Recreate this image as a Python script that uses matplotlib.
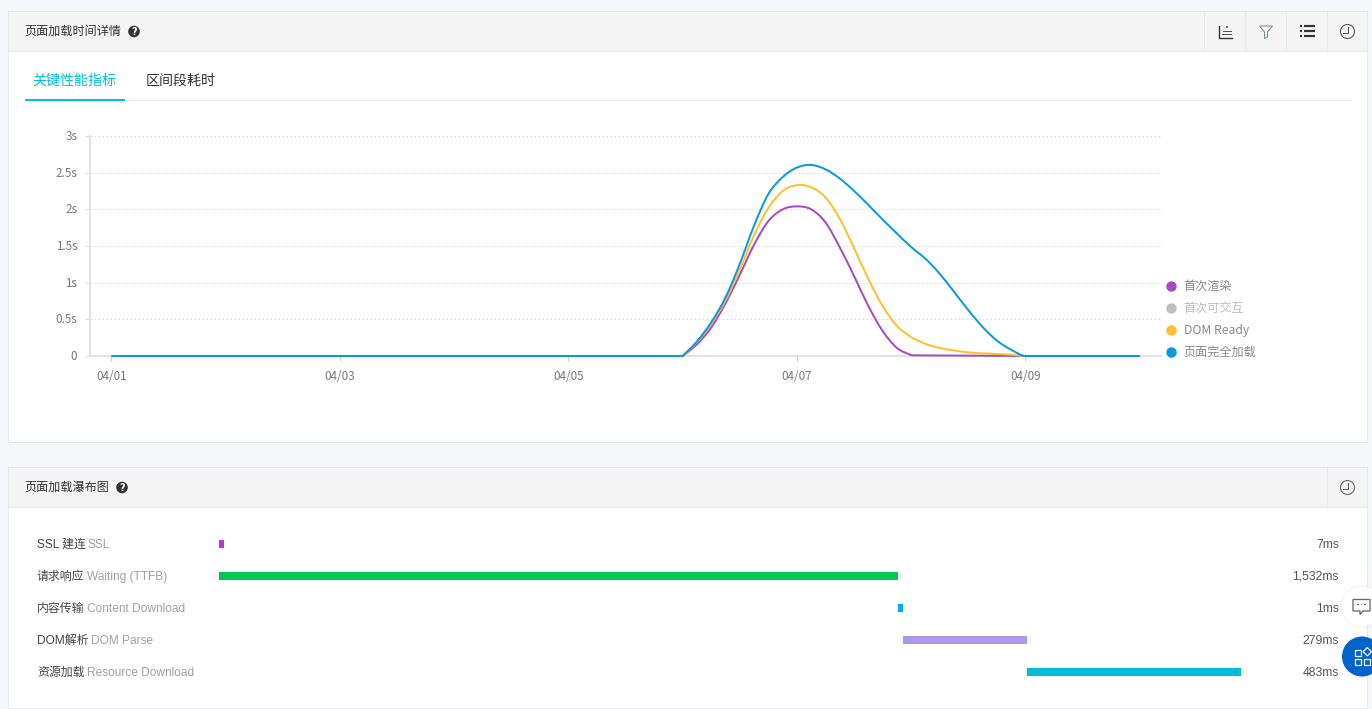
import matplotlib
matplotlib.use("Agg")
import matplotlib.pyplot as plt
from matplotlib.lines import Line2D
from matplotlib.path import Path
from matplotlib.patches import Rectangle, Circle, Polygon, PathPatch
from matplotlib.transforms import ScaledTranslation

# ====== DATA ======
days = [1, 2, 3, 4, 5, 6, 6.125, 6.25, 6.375, 6.5, 6.625, 6.75, 6.875, 7, 7.125, 7.25, 7.375, 7.5, 7.625,
        7.75, 7.875, 8, 8.125, 8.25, 8.375, 8.5, 8.625, 8.75, 8.875, 9, 10]
first_paint = [0, 0, 0, 0, 0, 0, 0.16, 0.39, 0.72, 1.11, 1.52, 1.84, 2.0, 2.04, 2.0, 1.82, 1.48, 1.09, 0.68,
               0.34, 0.11, 0.01, 0.008, 0.007, 0.006, 0.005, 0.004, 0.003, 0.002, 0, 0]
dom_ready = [0, 0, 0, 0, 0, 0, 0.19, 0.44, 0.76, 1.18, 1.65, 2.02, 2.25, 2.33, 2.3, 2.16, 1.87, 1.47, 1.05,
             0.68, 0.41, 0.255, 0.165, 0.11, 0.075, 0.05, 0.036, 0.027, 0.018, 0, 0]
page_load = [0, 0, 0, 0, 0, 0, 0.2, 0.46, 0.8, 1.26, 1.78, 2.21, 2.44, 2.57, 2.605, 2.545, 2.42, 2.25, 2.06,
             1.86, 1.67, 1.485, 1.325, 1.12, 0.875, 0.625, 0.395, 0.21, 0.085, 0, 0]
y_ticks = [0, 0.5, 1, 1.5, 2, 2.5, 3]
y_labels = ["0", "0.5s", "1s", "1.5s", "2s", "2.5s", "3s"]
x_ticks = [1, 3, 5, 7, 9]
x_labels = ["04/01", "04/03", "04/05", "04/07", "04/09"]
legend_labels = ["首次渲染", "首次可交互", "DOM Ready", "页面完全加载"]

stage_cn = ["SSL 建连", "请求响应", "内容传输", "DOM解析", "资源加载"]
stage_en = ["SSL", "Waiting (TTFB)", "Content Download", "DOM Parse", "Resource Download"]
stage_ms = ["7ms", "1,532ms", "1ms", "279ms", "483ms"]
bar_start = [0, 0, 1532, 1543, 1822]
bar_width = [11, 1532, 11, 279, 483]  # short ones are drawn wider than their value

# ====== STYLE ======
CJK = ["Noto Sans CJK SC", "DejaVu Sans"]
LATIN = ["Liberation Sans", "Noto Sans CJK SC", "DejaVu Sans"]
plt.rcParams["font.family"] = CJK
PT = 0.72  # 1 px in points at dpi 100
BORDER = "#e6e9ee"
W, H = 1372, 709

fig = plt.figure(figsize=(W / 100, H / 100), dpi=100, facecolor="#f5f7fa")


def px_axes(left, top, right, bottom):
    return fig.add_axes([left / W, 1 - bottom / H, (right - left) / W, (bottom - top) / H])


def smooth_line(axis, xs, ys, color, zorder, kinks=()):
    # the original is a smoothed line, so run bezier segments through the read points
    slopes = []
    for i in range(len(xs)):
        if i == 0 or i == len(xs) - 1 or xs[i] in kinks:
            slopes.append(None)
        else:
            slopes.append((ys[i + 1] - ys[i - 1]) / (xs[i + 1] - xs[i - 1]))
    verts = [(xs[0], ys[0])]
    codes = [Path.MOVETO]
    for i in range(len(xs) - 1):
        h = xs[i + 1] - xs[i]
        chord = (ys[i + 1] - ys[i]) / h
        m0 = chord if slopes[i] is None or h > 0.5 or xs[i] == 6 else slopes[i]
        m1 = chord if slopes[i + 1] is None or h > 0.5 or xs[i + 1] == 6 else slopes[i + 1]
        verts += [(xs[i] + h / 3, ys[i] + m0 * h / 3), (xs[i + 1] - h / 3, ys[i + 1] - m1 * h / 3), (xs[i + 1], ys[i + 1])]
        codes += [Path.CURVE4] * 3
    axis.add_patch(PathPatch(Path(verts, codes), fc="none", ec=color, lw=2 * PT, clip_on=False, zorder=zorder))


# ====== PANELS ======
bg = px_axes(0, 0, W, H)
bg.set_xlim(0, W)
bg.set_ylim(H, 0)
bg.axis("off")


def panel(top, bottom, head_bottom, dividers):
    bg.add_patch(Rectangle((8, top), 1359, bottom - top, fc="white", ec=BORDER, lw=1 * PT))
    bg.add_patch(Rectangle((8, top), 1359, head_bottom - top, fc="#f4f4f5", ec=BORDER, lw=1 * PT))
    for x in dividers:
        bg.plot([x, x], [top, head_bottom], color=BORDER, lw=1 * PT)


def help_icon(x, y):
    bg.add_patch(Circle((x, y), 5.8, fc="#333333", ec="none"))
    bg.text(x, y + 0.2, "?", color="white", fontsize=7, fontweight="bold", ha="center", va="center",
            family=["DejaVu Sans"])


def clock_icon(x, y, color):
    bg.add_patch(Circle((x, y), 7, fc="none", ec=color, lw=1.1 * PT))
    bg.plot([x, x, x - 5], [y - 5, y + 1, y + 1], color=color, lw=1 * PT)


panel(11, 442, 51, [1204, 1245, 1286, 1327])
panel(467, 708, 507, [1327])

bg.text(24, 31.5, "页面加载时间详情", fontsize=8.7, color="#333333", va="center")
help_icon(134, 31.5)
bg.text(24, 487.5, "页面加载瀑布图", fontsize=8.7, color="#333333", va="center")
help_icon(122, 487.5)

# tabs
bg.plot([25, 1351], [100, 100], color=BORDER, lw=1 * PT)
bg.plot([25, 125], [100, 100], color="#00c1de", lw=2 * PT, solid_capstyle="butt")
bg.text(32.5, 80.5, "关键性能指标", fontsize=10.1, color="#00c1de", va="center")
bg.text(145.5, 80.5, "区间段耗时", fontsize=10.1, color="#333333", va="center")

# header icons
for yy, x0 in [(30.5, 1223), (33.5, 1222)]:
    bg.plot([x0, 1231], [yy, yy], color="#555555", lw=1 * PT)
bg.plot([1226, 1228], [26.5, 26.5], color="#444444", lw=1.5 * PT, solid_capstyle="butt")
bg.plot([1219, 1219, 1232], [25.5, 38, 38], color="#333333", lw=1.4 * PT)
bg.add_patch(Polygon([(1259.5, 26), (1272.5, 26), (1267.5, 32), (1267.5, 37), (1264.5, 38.5), (1264.5, 32)],
                     fc="none", ec="#6d8fa5", lw=1 * PT))
for yy in [26, 31, 35.5]:
    bg.plot([1299.5, 1302], [yy, yy], color="#333333", lw=2.2 * PT, solid_capstyle="butt")
    bg.plot([1304, 1315], [yy, yy], color="#333333", lw=2.2 * PT, solid_capstyle="butt")
clock_icon(1347.5, 31.5, "#555555")
clock_icon(1347.5, 487.5, "#666666")

# ====== LINE CHART ======
ax = px_axes(90, 136, 1161, 356)
ax.patch.set_alpha(0)
ax.set_xlim(0.812, 10.186)
ax.set_ylim(0, 3)
smooth_line(ax, days, first_paint, "#a44cc0", 3, kinks=(8,))
smooth_line(ax, days, dom_ready, "#fdc02f", 4, kinks=(8,))
smooth_line(ax, days, page_load, "#0a9ade", 5)
ax.set_yticks(y_ticks, y_labels)
ax.set_xticks(x_ticks, x_labels)
ax.grid(axis="y", color="#dddddd", lw=1 * PT, linestyle=(0, (2, 2)))
ax.set_axisbelow(True)
for name in ["top", "right"]:
    ax.spines[name].set_visible(False)
for name in ["left", "bottom"]:
    ax.spines[name].set_color("#e2e2e2")
    ax.spines[name].set_linewidth(2 * PT)
ax.tick_params(axis="y", length=3.6, width=1 * PT, color="#dddddd", labelcolor="#777777", labelsize=8.4, pad=5.5)
ax.tick_params(axis="x", length=3.6, width=1 * PT, color="#cccccc", labelcolor="#777777", labelsize=8.4, pad=6.4)
for lab in ax.get_yticklabels():
    lab.set_transform(lab.get_transform() + ScaledTranslation(0, 0.01, fig.dpi_scale_trans))

handles = [Line2D([], [], ls="", marker="o", ms=9 * PT, color=c) for c in ["#a44cc0", "#bfbfbf", "#fdc02f", "#0a9ade"]]
leg = ax.legend(handles, legend_labels, loc="center left", bbox_to_anchor=(1.004, (356 - 319.5) / 220),
                frameon=False, fontsize=8.7, labelspacing=0.74, handletextpad=0.52, handlelength=1,
                borderpad=0, borderaxespad=0)
for txt, col in zip(leg.get_texts(), ["#888888", "#bdbdbd", "#888888", "#888888"]):
    txt.set_color(col)

# ====== WATERFALL ======
wf = px_axes(219, 528, 1339, 688)
wf.patch.set_alpha(0)
wf.set_xlim(0, 1120 / 0.4433)
wf.set_ylim(4.5, -0.5)
wf.axis("off")
wf.barh(range(5), bar_width, left=bar_start, height=0.25,
        color=["#c82cf0", "#00c853", "#00aaff", "#ae96e8", "#00bcd9"])

row_y = [544.7, 576.7, 608.7, 640.7, 672.7]
en_x = [88, 87, 87, 91, 87]
for y, cn, en, ex, ms in zip(row_y, stage_cn, stage_en, en_x, stage_ms):
    bg.text(37, y, cn, fontsize=8.6, color="#444444", va="center", family=LATIN)
    bg.text(ex, y, en, fontsize=8.6, color="#a0a0a0", va="center", family=LATIN)
    bg.text(1339, y, ms, fontsize=8.7, color="#555555", va="center", ha="right", family=LATIN)

# ====== FLOATING BUTTONS ======
top = px_axes(0, 0, W, H)
top.patch.set_alpha(0)
top.set_xlim(0, W)
top.set_ylim(H, 0)
top.axis("off")
for r, a in [(21.5, 0.02), (20.7, 0.03)]:
    top.add_patch(Circle((1362, 606.5), r, fc="black", alpha=a, ec="none"))
top.add_patch(Circle((1362, 606.5), 20, fc="white", ec="none"))
top.add_patch(Polygon([(1353, 599.5), (1370, 599.5), (1370, 611), (1363, 611), (1360, 614.5), (1360, 611), (1353, 611)],
                      fc="none", ec="#666666", lw=1.3 * PT))
for x in [1358, 1361.5, 1365]:
    top.add_patch(Rectangle((x - 0.7, 604), 1.4, 1.4, fc="#666666", ec="none"))
top.add_patch(Circle((1362, 656.5), 20, fc="#0064c8", ec="none"))
for x, y in [(1354.5, 649.5), (1354.5, 658.5), (1363.5, 658.5)]:
    top.add_patch(Rectangle((x, y), 6, 6, fc="none", ec="white", lw=1.2 * PT))
top.add_patch(Polygon([(1367.3, 647.5), (1371.5, 651.7), (1367.3, 655.9), (1363.1, 651.7)], fc="none", ec="white", lw=1.2 * PT))

fig.savefig("out.png", dpi=100, facecolor=fig.get_facecolor())
